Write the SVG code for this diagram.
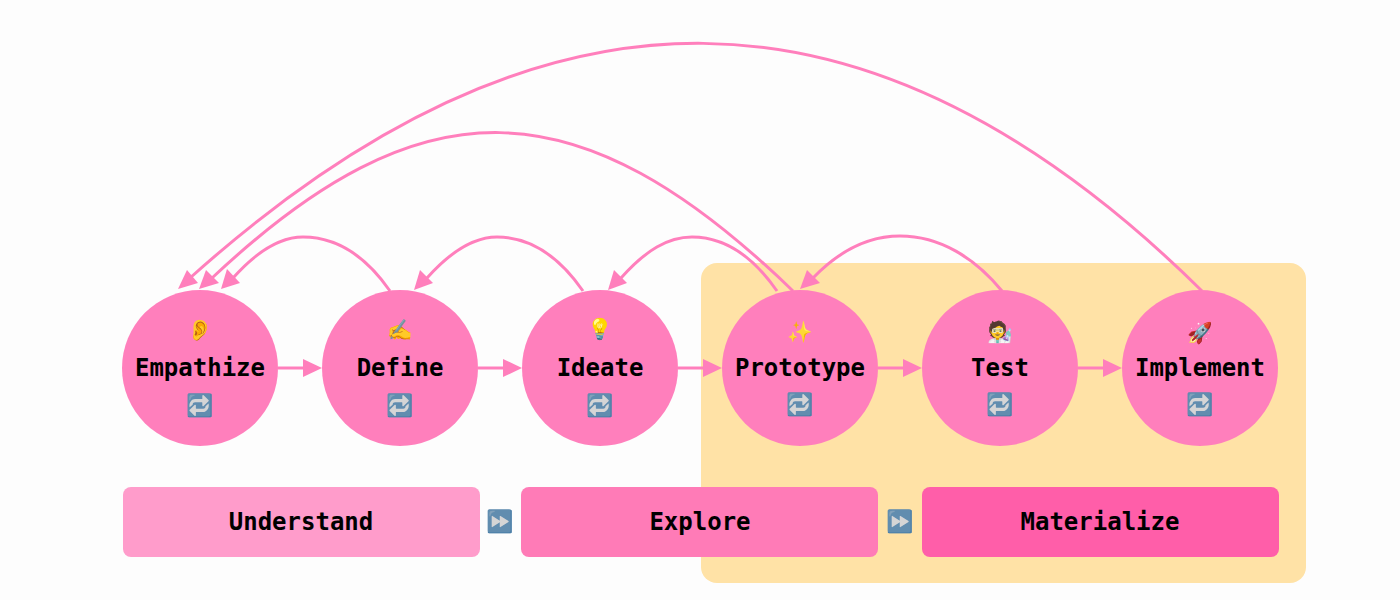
<svg xmlns="http://www.w3.org/2000/svg" width="1400" height="600" viewBox="0 0 1400 600">
<style>
.n{fill:#ff7fbc}
.t{font-family:"DejaVu Sans Mono",monospace;font-weight:700;font-size:24px;text-anchor:middle;fill:#000}
.e{font-family:"Noto Color Emoji","Apple Color Emoji","Noto Sans",sans-serif;font-size:20.5px;text-anchor:middle}
.b{font-size:22px;filter:hue-rotate(180deg) saturate(.5) brightness(.85)}
.c{fill:none;stroke:#ff7fbc;stroke-width:3}
.h{fill:#ff7fbc}
</style>
<rect width="1400" height="600" fill="#fdfdfd"/>
<rect id="highlight" x="701" y="263" width="605" height="320" rx="16" fill="#ffe2a6"/>
<g id="connectors">
<path class="c" d="M278 368H304"/><path class="c" d="M478 368H504"/><path class="c" d="M678 368H704"/><path class="c" d="M878 368H904"/><path class="c" d="M1078 368H1104"/>
<path class="h" d="M322 368L303 359V377Z"/><path class="h" d="M522 368L503 359V377Z"/><path class="h" d="M722 368L703 359V377Z"/><path class="h" d="M922 368L903 359V377Z"/><path class="h" d="M1122 368L1103 359V377Z"/>
<path class="c" d="M390 291C365 255 335 237 303 237C280 237 258 250 233 278"/>
<path class="c" d="M583 291C558 255 529 237 497 237C474 237 452 250 427 278"/>
<path class="c" d="M777 291C752 255 724 237 692 237C668 237 646 250 621 278"/>
<path class="c" d="M1002 291C975 258 940 236 900 236C870 236 840 250 813 278"/>
<path class="c" d="M793 291C577 82 421 82 212 278"/>
<path class="c" d="M1202 291C870 -37 541 -37 190 278"/>
<path class="h" d="M221 289L227 269L240 283Z"/><path class="h" d="M414 290L420 270L433 283Z"/><path class="h" d="M608 290L614 270L627 283Z"/><path class="h" d="M800 289L807 270L820 283Z"/><path class="h" d="M199 289L206 270L219 283Z"/><path class="h" d="M178 289L187 270L198 283Z"/>
</g>
<g id="empathize"><circle class="n" cx="200" cy="368" r="78"/><text class="e" x="200" y="337">👂</text><text class="t" x="200" y="376">Empathize</text><text class="e b" x="200" y="413">🔁</text></g>
<g id="define"><circle class="n" cx="400" cy="368" r="78"/><text class="e" x="400" y="337">✍️</text><text class="t" x="400" y="376">Define</text><text class="e b" x="400" y="413">🔁</text></g>
<g id="ideate"><circle class="n" cx="600" cy="368" r="78"/><text class="e" x="600" y="336">💡</text><text class="t" x="600" y="376">Ideate</text><text class="e b" x="600" y="413">🔁</text></g>
<g id="prototype"><circle class="n" cx="800" cy="368" r="78"/><text class="e" x="800" y="339">✨</text><text class="t" x="800" y="376">Prototype</text><text class="e b" x="800" y="412">🔁</text></g>
<g id="test"><circle class="n" cx="1000" cy="368" r="78"/><text class="e" x="1000" y="339">🧑‍🔬</text><text class="t" x="1000" y="376">Test</text><text class="e b" x="1000" y="411.500">🔁</text></g>
<g id="implement"><circle class="n" cx="1200" cy="368" r="78"/><text class="e" x="1200" y="340">🚀</text><text class="t" x="1200" y="376">Implement</text><text class="e b" x="1200" y="411.500">🔁</text></g>
<g id="understand"><rect x="123" y="487" width="357" height="70" rx="8" fill="#ff9ccb"/><text class="t" x="301" y="530">Understand</text></g>
<text class="e b" x="500" y="529">⏩</text>
<g id="explore"><rect x="521" y="487" width="357" height="70" rx="8" fill="#ff7bb7"/><text class="t" x="700" y="530">Explore</text></g>
<text class="e b" x="900" y="529">⏩</text>
<g id="materialize"><rect x="922" y="487" width="357" height="70" rx="8" fill="#ff5ea9"/><text class="t" x="1100" y="530">Materialize</text></g>
</svg>
